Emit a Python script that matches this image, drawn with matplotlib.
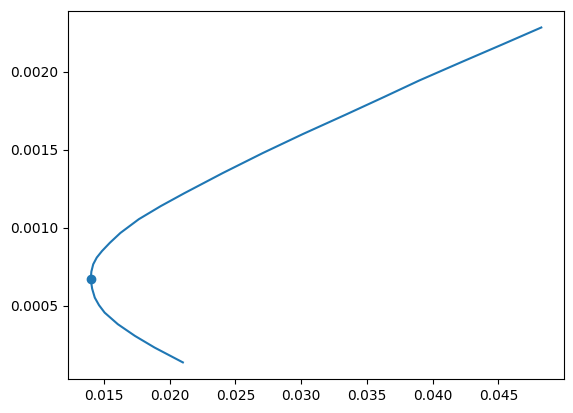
import matplotlib
matplotlib.use("Agg")
import matplotlib.pyplot as plt

# frontier points (risk, return)
risk = [0.02100, 0.01885, 0.01735, 0.01605, 0.01505, 0.01462, 0.01430,
        0.01410, 0.01399, 0.01404, 0.01418, 0.01445, 0.01485, 0.01545,
        0.01625, 0.01765, 0.01932, 0.02110, 0.02404, 0.02708, 0.03011,
        0.03341, 0.03632, 0.03898, 0.04227, 0.04530, 0.04827]
ret = [0.000138, 0.000233, 0.000308, 0.000383, 0.000457, 0.000505, 0.000553,
       0.000610, 0.000671, 0.000720, 0.000767, 0.000810, 0.000852, 0.000905,
       0.000968, 0.001056, 0.001140, 0.001222, 0.001352, 0.001480, 0.001601,
       0.001727, 0.001840, 0.001945, 0.002066, 0.002176, 0.002285]

# minimum variance point
min_risk = 0.01399
min_ret = 0.000671

fig = plt.figure(figsize=(5.73, 4.13), dpi=100)
plt.subplots_adjust(left=0.119, right=0.984, top=0.974, bottom=0.082)
plt.plot(risk, ret)
plt.scatter(min_risk, min_ret)
plt.savefig("out.png")
